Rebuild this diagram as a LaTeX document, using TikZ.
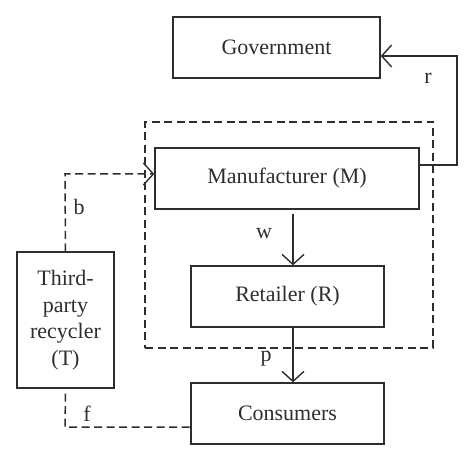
\documentclass[tikz,border=0pt]{standalone}
\usepackage{fontspec}
\setmainfont{Liberation Serif}
\usetikzlibrary{arrows.meta}
\definecolor{ink}{HTML}{2E2E2E}
\begin{document}
\begin{tikzpicture}[x=1pt,y=-1pt,
  box/.style={draw=ink,line width=1.4pt,rectangle,inner sep=0pt,text=ink,font=\fontsize{22}{25}\selectfont,align=center},
  arr/.style={draw=ink,line width=1.4pt,-{Straight Barb[length=10pt,width=22pt,line width=1.4pt]}},
  dline/.style={draw=ink,line width=1.5pt,dash pattern=on 8pt off 4.5pt},
  lbl/.style={text=ink,font=\fontsize{22}{25}\selectfont,inner sep=0pt}]
\useasboundingbox (0,0) rectangle (474,462);
\node[box,minimum width=288pt,minimum height=226pt,dline] (frame) at (289,235) {};
\node[box,minimum width=207pt,minimum height=61pt] (G) at (276.5,47.5) {Government};
\node[box,minimum width=264pt,minimum height=61pt] (M) at (287,178.5) {Manufacturer (M)};
\node[box,minimum width=193pt,minimum height=61pt] (R) at (287.5,296.5) {Retailer (R)};
\node[box,minimum width=193pt,minimum height=61pt] (C) at (287.5,413.5) {Consumers};
\node[box,minimum width=97pt,minimum height=136pt] (T) at (65.5,320) {\raisebox{4pt}{\renewcommand\arraystretch{1.06}\begin{tabular}{@{}c@{}}Third-\\party\\recycler\\(T)\end{tabular}}};
\coordinate (r1) at (457,165);
\coordinate (b1) at (65,174);
\coordinate (f1) at (65,427);
\draw[arr] ([yshift=13.5pt]M.east) -- (r1) |- ([yshift=-8.5pt]G.east);
\draw[arr] ([xshift=6pt,yshift=-4pt]M.south) -- ([xshift=5.5pt]R.north);
\draw[arr] ([xshift=5.5pt]R.south) -- ([xshift=5.5pt]C.north);
\draw[dline,-{Straight Barb[length=10pt,width=22pt,line width=1.4pt]}] (T.north) -- (b1) -- (b1 -| M.west);
\draw[dline] ([yshift=-5pt]T.south) -- (f1) -- (f1 -| C.west);
\node[lbl] (lr) at (428,78) {r};
\node[lbl] (lb) at (79,207) {b};
\node[lbl] (lf) at (87,414) {f};
\node[lbl] (lw) at (264,234) {w};
\node[lbl] (lp) at (266,359) {p};
\end{tikzpicture}
\end{document}
